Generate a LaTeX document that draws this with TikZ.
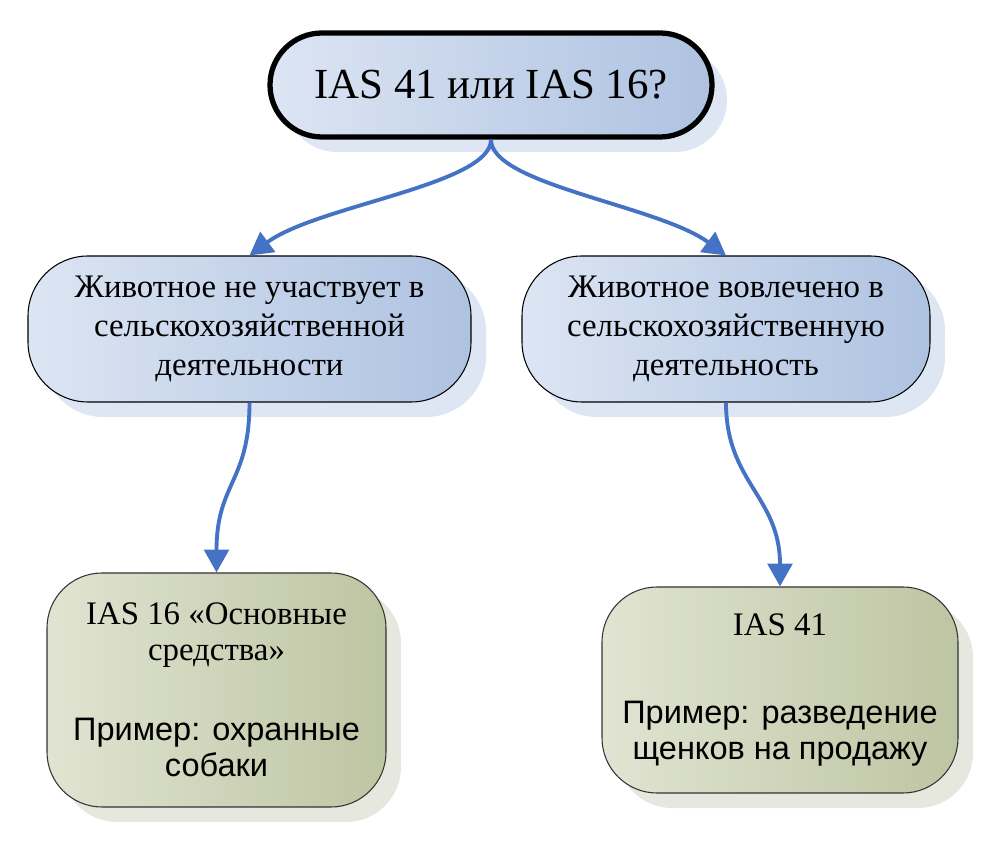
\documentclass[tikz,border=0pt]{standalone}
\usepackage{fontspec}
\setmainfont{Liberation Serif}
\newfontfamily\sansfont{Liberation Sans}
\usetikzlibrary{arrows.meta, shadows}

\definecolor{blueL}{RGB}{220,229,243}
\definecolor{blueR}{RGB}{174,194,225}
\definecolor{greenL}{RGB}{224,228,210}
\definecolor{greenR}{RGB}{190,197,162}
\definecolor{shadeblue}{RGB}{222,230,243}
\definecolor{shadegreen}{RGB}{230,232,224}
\definecolor{linkblue}{RGB}{68,114,196}

\newcommand{\exfont}{\sansfont\fontsize{18.5}{20.5}\selectfont}

\begin{document}
\begin{tikzpicture}[
    bluebox/.style={draw=black, line width=0.6pt, rounded corners=1.2cm,
        left color=blueL, right color=blueR,
        drop shadow={shadow xshift=0.3cm, shadow yshift=-0.3cm, fill=shadeblue, opacity=1},
        align=center, inner sep=0pt, font=\fontsize{18.7}{22.4}\selectfont},
    greenbox/.style={draw=black!80, line width=0.6pt, rounded corners=1.1cm,
        left color=greenL, right color=greenR,
        drop shadow={shadow xshift=0.3cm, shadow yshift=-0.3cm, fill=shadegreen, opacity=1},
        align=center, inner sep=0pt, font=\fontsize{18.7}{20.5}\selectfont},
    link/.style={linkblue, line width=2.2pt, -{Triangle[length=13pt, width=14pt]}}
]
        \useasboundingbox (0,0) rectangle (20,16.88);

        % Question
        \node[bluebox, line width=3pt, rounded corners=1.04cm, minimum width=8.84cm, minimum height=2.08cm,
              font=\fontsize{24.4}{28}\selectfont] (top) at (9.82,15.18) {IAS 41 или IAS 16?};

        % Two cases
        \node[bluebox, minimum width=8.86cm, minimum height=2.92cm] (midL) at (4.99,10.3)
            {Животное не участвует в\\сельскохозяйственной\\деятельности};
        \node[bluebox, minimum width=8.16cm, minimum height=2.92cm] (midR) at (14.52,10.3)
            {Животное вовлечено в\\сельскохозяйственную\\деятельность};

        % Standards
        \node[greenbox, minimum width=6.78cm, minimum height=4.68cm] (botL) at (4.33,3.08)
            {IAS 16 «Основные\\средства»\\[25pt]{\exfont Пример: охранные}\\{\exfont собаки}};
        \node[greenbox, minimum width=7.12cm, minimum height=4.12cm] (botR) at (15.6,3.08)
            {IAS 41\\[30pt]{\exfont Пример: разведение}\\{\exfont щенков на продажу}};

        % Arrows
        \draw[link] (top.south) .. controls +(0,-0.9) and +(1.35,1.0) .. (midL.north);
        \draw[link] (top.south) .. controls +(0,-0.9) and +(-1.35,1.0) .. (midR.north);
        \draw[link] (midL.south) .. controls +(0,-1.6) and +(0,1.8) .. (botL.north);
        \draw[link] (midR.south) .. controls +(0,-1.6) and +(0,1.8) .. (botR.north);
    \end{tikzpicture}
\end{document}
